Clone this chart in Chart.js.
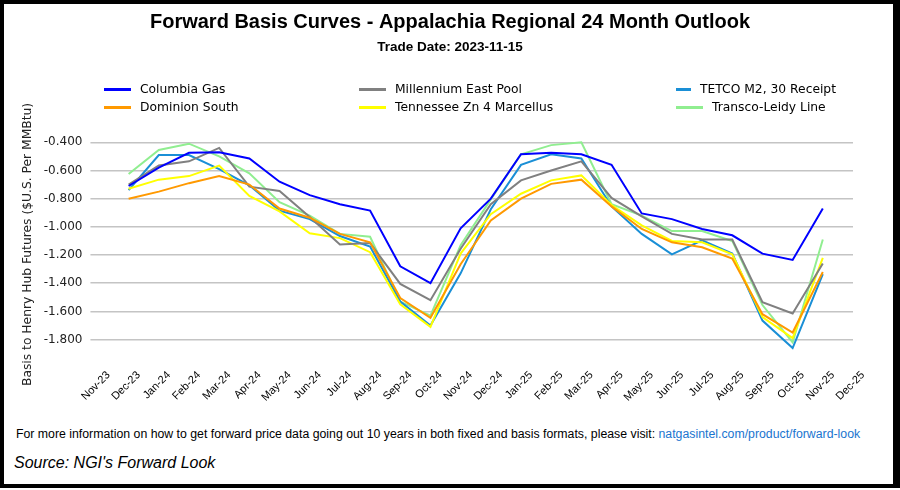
<!DOCTYPE html>
<html>
<head>
<meta charset="utf-8">
<title>Forward Basis Curves</title>
<script src="https://cdn.jsdelivr.net/npm/chart.js@4.4.1/dist/chart.umd.min.js"></script>
<style>
  body { margin: 0; background: #fff; }
  #wrap { position: relative; width: 900px; height: 490px; overflow: hidden; }
  #frame { position: absolute; left: 0; top: 0; width: 900px; height: 488px; box-sizing: border-box;
           border: 4px solid #000; border-right-width: 7px; pointer-events: none; }
  #chartBox { position: absolute; left: 0; top: 0; width: 900px; height: 404px; }
  #legend { position: absolute; left: 104px; top: 80px; display: grid; grid-auto-flow: column;
            grid-template-rows: 18px 18px; grid-template-columns: 255px 317px 160px;
            font: 12.3px "DejaVu Sans", sans-serif; color: #000; }
  #legend .item { display: flex; align-items: center; white-space: nowrap; }
  #legend .swatch { width: 27px; height: 3px; margin-right: 9px; }
  #note { position: absolute; left: 16px; top: 427px; font: 12.3px "Liberation Sans", Arial, sans-serif; color: #000; white-space: nowrap; }
  #note a { color: #1a75cf; text-decoration: none; }
  #source { position: absolute; left: 14px; top: 454px; font: italic 16px "Liberation Sans", Arial, sans-serif; color: #000; }
</style>
</head>
<body>
<div id="wrap">
  <div id="chartBox"><canvas id="lineChart"></canvas></div>
  <div id="legend"></div>
  <div id="note">For more information on how to get forward price data going out 10 years in both fixed and basis formats, please visit: <a href="#">natgasintel.com/product/forward-look</a></div>
  <div id="source">Source: NGI's Forward Look</div>
  <div id="frame"></div>
</div>
<script>
// months on the x axis
const months = ['Nov-23', 'Dec-23', 'Jan-24', 'Feb-24', 'Mar-24', 'Apr-24', 'May-24', 'Jun-24', 'Jul-24',
  'Aug-24', 'Sep-24', 'Oct-24', 'Nov-24', 'Dec-24', 'Jan-25', 'Feb-25', 'Mar-25', 'Apr-25', 'May-25',
  'Jun-25', 'Jul-25', 'Aug-25', 'Sep-25', 'Oct-25', 'Nov-25', 'Dec-25'];

// basis values, $/MMBtu (no data for Nov-23 and Dec-25)
const columbiaGas = [null, -0.71, -0.58, -0.475, -0.47, -0.515, -0.68, -0.775, -0.84, -0.885, -1.28, -1.40,
  -1.01, -0.80, -0.485, -0.475, -0.485, -0.56, -0.905, -0.945, -1.015, -1.06, -1.19, -1.235, -0.87, null];
const dominionSouth = [null, -0.80, -0.75, -0.69, -0.64, -0.70, -0.87, -0.935, -1.05, -1.11, -1.505, -1.645,
  -1.265, -0.955, -0.80, -0.695, -0.665, -0.855, -1.015, -1.11, -1.145, -1.225, -1.62, -1.75, -1.32, null];
const millenniumEast = [null, -0.70, -0.565, -0.535, -0.44, -0.715, -0.745, -0.93, -1.125, -1.115, -1.405, -1.52,
  -1.155, -0.84, -0.67, -0.60, -0.535, -0.795, -0.925, -1.05, -1.09, -1.09, -1.535, -1.615, -1.26, null];
const tennesseeZn4 = [null, -0.73, -0.665, -0.64, -0.565, -0.78, -0.89, -1.045, -1.08, -1.18, -1.55, -1.71,
  -1.19, -0.91, -0.765, -0.67, -0.635, -0.845, -0.99, -1.10, -1.11, -1.195, -1.64, -1.79, -1.22, null];
const tetcoM2 = [null, -0.74, -0.49, -0.49, -0.59, -0.705, -0.885, -0.945, -1.065, -1.14, -1.53, -1.70,
  -1.33, -0.875, -0.56, -0.485, -0.515, -0.855, -1.05, -1.195, -1.095, -1.19, -1.665, -1.86, -1.335, null];
const transcoLeidy = [null, -0.625, -0.455, -0.41, -0.50, -0.62, -0.825, -0.92, -1.05, -1.07, -1.53, -1.63,
  -1.13, -0.805, -0.485, -0.42, -0.40, -0.84, -0.92, -1.03, -1.03, -1.10, -1.555, -1.82, -1.09, null];

// y tick labels
const yTicks = [-0.4, -0.6, -0.8, -1.0, -1.2, -1.4, -1.6, -1.8];

function line(label, data, color) {
  return { label: label, data: data, borderColor: color, backgroundColor: color,
           borderWidth: 2, pointRadius: 0, tension: 0, fill: false };
}

// legend as html, three columns like the original
const htmlLegend = {
  id: 'htmlLegend',
  afterUpdate(chart) {
    const box = document.getElementById('legend');
    box.innerHTML = '';
    chart.data.datasets.forEach(ds => {
      const item = document.createElement('div');
      item.className = 'item';
      item.innerHTML = '<span class="swatch" style="background:' + ds.borderColor + '"></span>' + ds.label;
      box.appendChild(item);
    });
  }
};

const ctx = document.getElementById('lineChart').getContext('2d');
const myChart = new Chart(ctx, {
  type: 'line',
  data: {
    labels: months,
    datasets: [
      line('Columbia Gas', columbiaGas, '#0000ff'),
      line('Dominion South', dominionSouth, '#ff9900'),
      line('Millennium East Pool', millenniumEast, '#808080'),
      line('Tennessee Zn 4 Marcellus', tennesseeZn4, '#ffff00'),
      line('TETCO M2, 30 Receipt', tetcoM2, '#1a8fd6'),
      line('Transco-Leidy Line', transcoLeidy, '#90ee90')
    ]
  },
  plugins: [htmlLegend],
  options: {
    responsive: true,
    maintainAspectRatio: false,
    animation: false,
    layout: { padding: 0 },
    plugins: {
      legend: { display: false },
      tooltip: { enabled: false },
      title: {
        display: true,
        text: 'Forward Basis Curves - Appalachia Regional 24 Month Outlook',
        color: '#000',
        font: { family: 'Liberation Sans', size: 20, weight: 'bold' },
        padding: { top: 10, bottom: 0 }
      },
      subtitle: {
        display: true,
        text: 'Trade Date: 2023-11-15',
        color: '#000',
        font: { family: 'Liberation Sans', size: 13.5, weight: 'bold' },
        padding: { top: 5, bottom: 73 }
      }
    },
    scales: {
      x: {
        offset: false,
        grid: { display: false },
        border: { display: false },
        ticks: {
          autoSkip: false, maxRotation: 45, minRotation: 45, padding: 0, labelOffset: 10,
          color: '#000', font: { family: 'Liberation Sans', size: 11 }
        }
      },
      y: {
        min: -1.95,
        max: -0.3,
        afterBuildTicks: axis => { axis.ticks = yTicks.map(v => ({ value: v })); },
        grid: { color: '#c4c4c4', lineWidth: 1.5, tickLength: 8 },
        border: { display: false },
        ticks: {
          padding: 8, color: '#222',
          font: { family: 'DejaVu Sans', size: 12 },
          callback: v => v.toFixed(3)
        },
        title: {
          display: true,
          text: 'Basis to Henry Hub Futures ($U.S. Per MMBtu)',
          color: '#222',
          font: { family: 'DejaVu Sans', size: 12.3 },
          padding: { top: 20, bottom: 1 }
        }
      },
      // empty right-hand gutter so the plot ends where the original does
      gutter: {
        type: 'linear',
        position: 'right',
        grid: { display: false },
        border: { display: false },
        ticks: { display: false },
        afterFit: scale => { scale.width = 47; }
      }
    }
  }
});
</script>
</body>
</html>
